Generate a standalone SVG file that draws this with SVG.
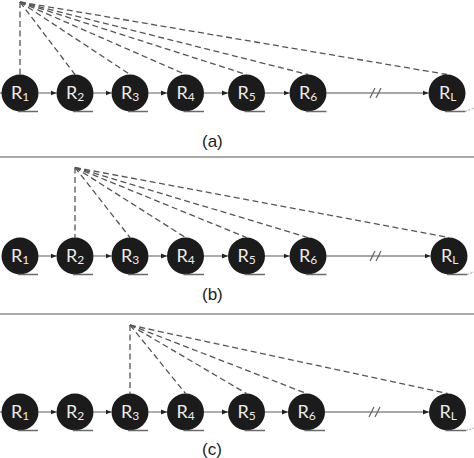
<svg xmlns="http://www.w3.org/2000/svg" width="474" height="458" viewBox="0 0 474 458">
<style>
.node circle{fill:#1b1b1b}
.lbl{font-family:Lato,"Open Sans","Liberation Sans",sans-serif;font-size:18px;fill:#ececec}
.sub{font-size:12px}
.ul{stroke:#6a6a6a;stroke-width:1.5}
.arr{stroke:#8a8a8a;stroke-width:1.4;fill:none;marker-end:url(#ah)}
.plain{stroke:#8a8a8a;stroke-width:1.4;fill:none}
.brk{stroke:#666;stroke-width:1.3}
.dash{stroke:#555;stroke-width:1.3;stroke-dasharray:6 3.5;fill:none}
.sep{stroke:#aaaaaa;stroke-width:2}
.cap{font-family:"Liberation Sans",Arial,sans-serif;font-size:17px;fill:#222}
.pm{stroke:#999;stroke-width:1;fill:none;stroke-dasharray:2 1.5}
</style>
<defs>
<marker id="ah" viewBox="0 0 6 6" refX="6" refY="3" markerWidth="6" markerHeight="6" markerUnits="userSpaceOnUse" orient="auto">
<path d="M0,0.5 L6,3 L0,5.5 Z" fill="#222"/>
</marker>
</defs>

<g id="separators">
<line class="sep" x1="0" y1="157" x2="474" y2="157"/>
<line class="sep" x1="0" y1="314" x2="474" y2="314"/>
</g>

<g id="connectors">
<g id="conn-a">
<line class="plain" x1="0" y1="93" x2="2" y2="93"/>
<line class="arr" x1="38.5" y1="93" x2="56.5" y2="93"/>
<line class="arr" x1="93.5" y1="93" x2="111.5" y2="93"/>
<line class="arr" x1="148.5" y1="93" x2="167" y2="93"/>
<line class="arr" x1="204" y1="93" x2="228" y2="93"/>
<line class="arr" x1="265" y1="93" x2="289.5" y2="93"/>
<line class="arr" x1="326.5" y1="93" x2="428.5" y2="93"/>
<line class="brk" x1="370" y1="98" x2="375" y2="88"/>
<line class="brk" x1="376" y1="98" x2="381" y2="88"/>
<line class="dash" x1="20" y1="2" x2="20" y2="74.5"/>
<line class="dash" x1="20" y1="2" x2="75" y2="74.5"/>
<line class="dash" x1="20" y1="2" x2="130" y2="74.5"/>
<line class="dash" x1="20" y1="2" x2="185.5" y2="74.5"/>
<line class="dash" x1="20" y1="2" x2="246.5" y2="74.5"/>
<line class="dash" x1="20" y1="2" x2="308" y2="74.5"/>
<line class="dash" x1="20" y1="2" x2="447" y2="74.5"/>
<path class="pm" d="M465,111.5 L474,108"/>
</g>
<g id="conn-b">
<line class="arr" x1="38.5" y1="256" x2="56.5" y2="256"/>
<line class="arr" x1="93.5" y1="256" x2="111.5" y2="256"/>
<line class="arr" x1="148.5" y1="256" x2="167" y2="256"/>
<line class="arr" x1="204" y1="256" x2="228" y2="256"/>
<line class="arr" x1="265" y1="256" x2="289.5" y2="256"/>
<line class="arr" x1="326.5" y1="256" x2="430.5" y2="256"/>
<line class="brk" x1="370" y1="261" x2="375" y2="251"/>
<line class="brk" x1="376" y1="261" x2="381" y2="251"/>
<line class="dash" x1="75" y1="167.5" x2="75" y2="237.5"/>
<line class="dash" x1="75" y1="167.5" x2="130" y2="237.5"/>
<line class="dash" x1="75" y1="167.5" x2="185.5" y2="237.5"/>
<line class="dash" x1="75" y1="167.5" x2="246.5" y2="237.5"/>
<line class="dash" x1="75" y1="167.5" x2="308" y2="237.5"/>
<line class="dash" x1="75" y1="167.5" x2="449" y2="237.5"/>
<path class="pm" d="M467,274.5 L474,272"/>
</g>
<g id="conn-c">
<line class="plain" x1="0" y1="412" x2="2" y2="412"/>
<line class="arr" x1="38.5" y1="412" x2="56.5" y2="412"/>
<line class="arr" x1="93.5" y1="412" x2="111.5" y2="412"/>
<line class="arr" x1="148.5" y1="412" x2="167" y2="412"/>
<line class="arr" x1="204" y1="412" x2="228" y2="412"/>
<line class="arr" x1="265" y1="412" x2="288" y2="412"/>
<line class="arr" x1="325" y1="412" x2="429" y2="412"/>
<line class="brk" x1="369" y1="417" x2="374" y2="407"/>
<line class="brk" x1="375" y1="417" x2="380" y2="407"/>
<line class="dash" x1="130" y1="325" x2="130" y2="393.5"/>
<line class="dash" x1="130" y1="325" x2="185.5" y2="393.5"/>
<line class="dash" x1="130" y1="325" x2="246.5" y2="393.5"/>
<line class="dash" x1="130" y1="325" x2="306.5" y2="393.5"/>
<line class="dash" x1="130" y1="325" x2="447.5" y2="393.5"/>
<path class="pm" d="M466,430.5 L474,428"/>
</g>
</g>

<g id="a-R1" class="node"><circle cx="20" cy="93" r="18.5"/><line class="ul" x1="18" y1="111.5" x2="38" y2="111.5"/><text class="lbl" x="11" y="99">R<tspan class="sub" dy="2">1</tspan></text></g>
<g id="a-R2" class="node"><circle cx="75" cy="93" r="18.5"/><line class="ul" x1="73" y1="111.5" x2="93" y2="111.5"/><text class="lbl" x="66" y="99">R<tspan class="sub" dy="2">2</tspan></text></g>
<g id="a-R3" class="node"><circle cx="130" cy="93" r="18.5"/><line class="ul" x1="128" y1="111.5" x2="148" y2="111.5"/><text class="lbl" x="121" y="99">R<tspan class="sub" dy="2">3</tspan></text></g>
<g id="a-R4" class="node"><circle cx="185.5" cy="93" r="18.5"/><line class="ul" x1="183.5" y1="111.5" x2="204" y2="111.5"/><text class="lbl" x="176.5" y="99">R<tspan class="sub" dy="2">4</tspan></text></g>
<g id="a-R5" class="node"><circle cx="246.5" cy="93" r="18.5"/><line class="ul" x1="244.5" y1="111.5" x2="265" y2="111.5"/><text class="lbl" x="237.5" y="99">R<tspan class="sub" dy="2">5</tspan></text></g>
<g id="a-R6" class="node"><circle cx="308" cy="93" r="18.5"/><line class="ul" x1="306" y1="111.5" x2="326.5" y2="111.5"/><text class="lbl" x="299" y="99">R<tspan class="sub" dy="2">6</tspan></text></g>
<g id="a-RL" class="node"><circle cx="447" cy="93" r="18.5"/><line class="ul" x1="445" y1="111.5" x2="465" y2="111.5"/><text class="lbl" x="439" y="99">R<tspan class="sub" dy="2">L</tspan></text></g>
<text class="cap" x="202" y="147">(a)</text>

<g id="b-R1" class="node"><circle cx="20" cy="256" r="18.5"/><line class="ul" x1="18" y1="274.5" x2="38" y2="274.5"/><text class="lbl" x="11" y="262">R<tspan class="sub" dy="2">1</tspan></text></g>
<g id="b-R2" class="node"><circle cx="75" cy="256" r="18.5"/><line class="ul" x1="73" y1="274.5" x2="93" y2="274.5"/><text class="lbl" x="66" y="262">R<tspan class="sub" dy="2">2</tspan></text></g>
<g id="b-R3" class="node"><circle cx="130" cy="256" r="18.5"/><line class="ul" x1="128" y1="274.5" x2="148" y2="274.5"/><text class="lbl" x="121" y="262">R<tspan class="sub" dy="2">3</tspan></text></g>
<g id="b-R4" class="node"><circle cx="185.5" cy="256" r="18.5"/><line class="ul" x1="183.5" y1="274.5" x2="204" y2="274.5"/><text class="lbl" x="176.5" y="262">R<tspan class="sub" dy="2">4</tspan></text></g>
<g id="b-R5" class="node"><circle cx="246.5" cy="256" r="18.5"/><line class="ul" x1="244.5" y1="274.5" x2="265" y2="274.5"/><text class="lbl" x="237.5" y="262">R<tspan class="sub" dy="2">5</tspan></text></g>
<g id="b-R6" class="node"><circle cx="308" cy="256" r="18.5"/><line class="ul" x1="306" y1="274.5" x2="326.5" y2="274.5"/><text class="lbl" x="299" y="262">R<tspan class="sub" dy="2">6</tspan></text></g>
<g id="b-RL" class="node"><circle cx="449" cy="256" r="18.5"/><line class="ul" x1="447" y1="274.5" x2="467" y2="274.5"/><text class="lbl" x="441" y="262">R<tspan class="sub" dy="2">L</tspan></text></g>
<text class="cap" x="202" y="300">(b)</text>

<g id="c-R1" class="node"><circle cx="20" cy="412" r="18.5"/><line class="ul" x1="18" y1="430.5" x2="38" y2="430.5"/><text class="lbl" x="11" y="418">R<tspan class="sub" dy="2">1</tspan></text></g>
<g id="c-R2" class="node"><circle cx="75" cy="412" r="18.5"/><line class="ul" x1="73" y1="430.5" x2="93" y2="430.5"/><text class="lbl" x="66" y="418">R<tspan class="sub" dy="2">2</tspan></text></g>
<g id="c-R3" class="node"><circle cx="130" cy="412" r="18.5"/><line class="ul" x1="128" y1="430.5" x2="148" y2="430.5"/><text class="lbl" x="121" y="418">R<tspan class="sub" dy="2">3</tspan></text></g>
<g id="c-R4" class="node"><circle cx="185.5" cy="412" r="18.5"/><line class="ul" x1="183.5" y1="430.5" x2="204" y2="430.5"/><text class="lbl" x="176.5" y="418">R<tspan class="sub" dy="2">4</tspan></text></g>
<g id="c-R5" class="node"><circle cx="246.5" cy="412" r="18.5"/><line class="ul" x1="244.5" y1="430.5" x2="265" y2="430.5"/><text class="lbl" x="237.5" y="418">R<tspan class="sub" dy="2">5</tspan></text></g>
<g id="c-R6" class="node"><circle cx="306.5" cy="412" r="18.5"/><line class="ul" x1="304.5" y1="430.5" x2="325" y2="430.5"/><text class="lbl" x="297.5" y="418">R<tspan class="sub" dy="2">6</tspan></text></g>
<g id="c-RL" class="node"><circle cx="447.5" cy="412" r="18.5"/><line class="ul" x1="445.5" y1="430.5" x2="466" y2="430.5"/><text class="lbl" x="439.5" y="418">R<tspan class="sub" dy="2">L</tspan></text></g>
<text class="cap" x="202" y="455">(c)</text>
</svg>
